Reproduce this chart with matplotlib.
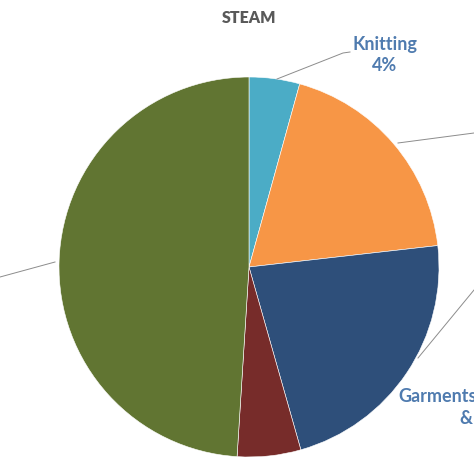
import matplotlib.pyplot as plt

# slices, clockwise from 12 o'clock
shares = [4.3, 18.9, 22.4, 5.4, 49.0]
slice_colors = ['#4BACC6', '#F79646', '#2E4F7A', '#772C2A', '#617532']
title = 'STEAM'
knit_label = 'Knitting\n4%'
garm_label = 'Garments'
garm_label2 = '&'

fig = plt.figure(figsize=(4.74, 4.74), dpi=100)
ax = fig.add_axes([0, 0, 1, 1])

# pie in pixel coords (y up)
cx, cy, r = 249, 474 - 267, 190
ax.pie(shares, colors=slice_colors, startangle=90, counterclock=False,
       center=(cx, cy), radius=r, frame=True,
       wedgeprops=dict(edgecolor='white', linewidth=0.4))
ax.set_xlim(0, 474)
ax.set_ylim(0, 474)
ax.set_aspect('equal')
ax.axis('off')

ax.text(249, 474 - 18, title, ha='center', va='center', fontsize=11.5,
        fontweight='heavy', color='#595959', family='Lato')

# leader lines
lc = '#8C8C8C'
ax.plot([277, 343, 350], [474 - 79, 474 - 53, 474 - 52], color=lc, lw=0.7)
ax.plot([398, 474], [474 - 143, 474 - 133], color=lc, lw=0.7)
ax.plot([418, 474], [474 - 358, 474 - 290], color=lc, lw=0.7)
ax.plot([55, 0], [474 - 262, 474 - 277], color=lc, lw=0.7)

lab_color = '#4F7BAF'
ax.text(385, 474 - 55, knit_label, ha='center', va='center', fontsize=13,
        fontweight='bold', color=lab_color, family='Lato', linespacing=1.35)
# label of the blue slice runs off the right edge, as in the source
ax.text(398, 474 - 397, garm_label, ha='left', va='center', fontsize=13,
        fontweight='bold', color=lab_color, family='Lato')
ax.text(459, 474 - 418, garm_label2, ha='left', va='center', fontsize=13,
        fontweight='bold', color=lab_color, family='Lato')

fig.savefig('out.png', dpi=100)
